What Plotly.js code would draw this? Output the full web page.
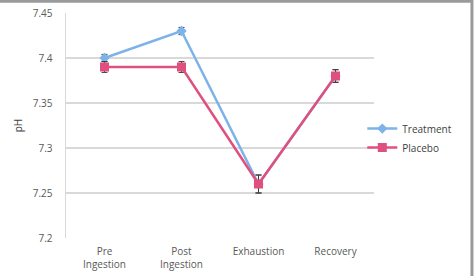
<!DOCTYPE html>
<html>
<head>
<meta charset="utf-8">
<script src="https://cdn.plot.ly/plotly-3.0.1.min.js"></script>
<style>
  html, body { margin: 0; padding: 0; background: #fff; }
  #chart { width: 474px; height: 276px; }
</style>
</head>
<body>
<div id="chart"></div>
<script>
// Blood pH across the four measurement stages
const stages = ["Pre<br>Ingestion", "Post<br>Ingestion", "Exhaustion", "Recovery"];
const treatmentPH = [7.40, 7.43, 7.26, 7.38];
const treatmentErr = [0.004, 0.004, 0.010, 0.007];
const placeboPH = [7.39, 7.39, 7.26, 7.38];
const placeboErr = [0.006, 0.006, 0.010, 0.007];
const yTicks = [7.2, 7.25, 7.3, 7.35, 7.4, 7.45];
const yTickText = ["7.2", "7.25", "7.3", "7.35", "7.4", "7.45"];

const errStyle = { type: "data", visible: true, color: "#3a3a3a", thickness: 1, width: 3 };

const traces = [
  {
    name: "Treatment",
    x: stages,
    y: treatmentPH,
    type: "scatter",
    mode: "lines+markers",
    line: { color: "#7db3e8", width: 2.5 },
    marker: { symbol: "diamond", size: 8, color: "#7db3e8" },
    error_y: Object.assign({ array: treatmentErr }, errStyle)
  },
  {
    name: "Placebo",
    x: stages,
    y: placeboPH,
    type: "scatter",
    mode: "lines+markers",
    line: { color: "#e0507f", width: 2.5 },
    marker: { symbol: "square", size: 9, color: "#e0507f" },
    error_y: Object.assign({ array: placeboErr }, errStyle)
  }
];

const font = { family: "Open Sans, Liberation Sans, sans-serif", size: 10, color: "#595959" };

const layout = {
  width: 474,
  height: 276,
  margin: { l: 66, r: 100, t: 13, b: 38, pad: 0 },
  paper_bgcolor: "#ffffff",
  plot_bgcolor: "#ffffff",
  font: font,
  showlegend: true,
  legend: {
    x: 0.962, y: 0.444, xanchor: "left", yanchor: "middle",
    font: { family: font.family, size: 10, color: "#404040" },
    itemwidth: 30, tracegroupgap: 4,
    bgcolor: "rgba(0,0,0,0)"
  },
  xaxis: {
    type: "category",
    range: [-0.5, 3.5],
    showgrid: false,
    showline: false,
    zeroline: false,
    ticks: "",
    ticklabelstandoff: 6,
    tickfont: font,
    fixedrange: true
  },
  yaxis: {
    range: [7.2, 7.45],
    tickvals: yTicks,
    ticktext: yTickText,
    showgrid: true,
    gridcolor: "#d9d9d9",
    gridwidth: 1.5,
    zeroline: false,
    showline: true,
    linecolor: "#d9d9d9",
    linewidth: 1.5,
    ticks: "",
    ticklen: 0,
    ticklabelstandoff: 10,
    tickfont: font,
    title: { text: "pH", font: { family: font.family, size: 10, color: "#404040" }, standoff: 8 },
    fixedrange: true
  },
  shapes: [
    // frame edges at top and right of the figure
    { type: "line", xref: "paper", yref: "paper", x0: -0.3, x1: 1.32, y0: 1.052, y1: 1.052,
      line: { color: "#9a9a9a", width: 3 } },
    { type: "line", xref: "paper", yref: "paper", x0: 1.318, x1: 1.318, y0: 1.06, y1: -0.2,
      line: { color: "#9a9a9a", width: 3 } }
  ]
};

Plotly.newPlot("chart", traces, layout, { displayModeBar: false, staticPlot: true });
</script>
</body>
</html>
